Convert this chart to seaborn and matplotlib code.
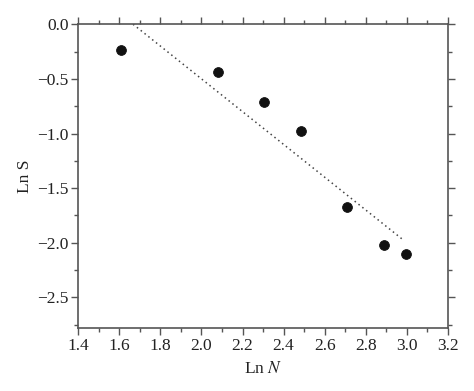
import numpy as np
import pandas as pd
import seaborn as sns
import matplotlib.pyplot as plt

# measured points (Ln N, Ln S)
ln_n = [1.609, 2.079, 2.303, 2.485, 2.708, 2.890, 2.996]
ln_s = [-0.235, -0.44, -0.71, -0.975, -1.67, -2.02, -2.10]

# fitted trend line end points
fit_x = [1.667, 2.98]
fit_y = [0.0, -1.97]

x_ticks = [1.4, 1.6, 1.8, 2.0, 2.2, 2.4, 2.6, 2.8, 3.0, 3.2]
y_ticks = [0.0, -0.5, -1.0, -1.5, -2.0, -2.5]

sns.set_style("ticks")
plt.rcParams['font.family'] = ['Liberation Serif', 'DejaVu Serif']
plt.rcParams['mathtext.fontset'] = 'stix'

df = pd.DataFrame({"ln_n": ln_n, "ln_s": ln_s})
fit = pd.DataFrame({"x": fit_x, "y": fit_y})

fig = plt.figure(figsize=(4.74, 3.91), dpi=100)
ax = fig.add_axes([0.165, 0.161, 0.780, 0.777])

sns.lineplot(data=fit, x="x", y="y", ax=ax, color="#444444", linestyle=(0, (1, 2.2)), linewidth=1.1)
sns.scatterplot(data=df, x="ln_n", y="ln_s", ax=ax, color="#111111", s=50, edgecolor="#111111", zorder=3)

ax.set_xlim(1.4, 3.2)
ax.set_ylim(-2.78, 0.0)
ax.set_xticks(x_ticks)
ax.set_yticks(y_ticks)
ax.set_xticklabels([f"{v:.1f}" for v in x_ticks])
ax.set_yticklabels([f"{v:.1f}".replace("-", "\u2212") for v in y_ticks])
ax.set_xticks(np.arange(1.5, 3.2, 0.2), minor=True)
ax.set_yticks([-0.25, -0.75, -1.25, -1.75, -2.25, -2.75], minor=True)

for sp in ax.spines.values():
    sp.set_visible(True)
    sp.set_color("#555555")
    sp.set_linewidth(1.2)
ax.tick_params(which="both", direction="out", color="#555555", width=1.0,
               top=True, right=True, labelsize=12.5, labelcolor="#222222", pad=2)
ax.tick_params(which="major", length=5)
ax.tick_params(which="minor", length=3)

ax.set_xlabel(r"Ln $N$", fontsize=12.5, color="#222222", labelpad=5)
ax.set_ylabel("Ln S", fontsize=12.5, color="#222222", labelpad=3)

fig.savefig("out.png", dpi=100)
